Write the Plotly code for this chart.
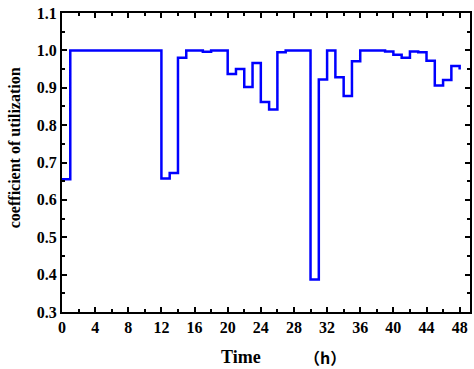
import plotly.graph_objects as go

hours = list(range(0, 49))
utilization = [
    0.655, 1.0, 1.0, 1.0, 1.0, 1.0, 1.0, 1.0, 1.0, 1.0, 1.0, 1.0,
    0.657, 0.672, 0.98, 1.0, 1.0, 0.996, 1.0, 1.0, 0.937, 0.95, 0.902, 0.966,
    0.862, 0.842, 0.995, 1.0, 1.0, 1.0, 0.387, 0.922, 1.0, 0.928, 0.878, 0.971,
    1.0, 1.0, 1.0, 0.997, 0.988, 0.98, 0.997, 0.995, 0.972, 0.906, 0.921, 0.958,
    0.949,
]
x_ticks = list(range(0, 49, 4))
y_ticks = [0.3, 0.4, 0.5, 0.6, 0.7, 0.8, 0.9, 1.0, 1.1]

fig = go.Figure()
fig.add_trace(go.Scatter(
    x=hours, y=utilization, mode="lines", line_shape="hv",
    line=dict(color="#0000ff", width=2.5), showlegend=False,
))

tickfont = dict(family="Liberation Serif", size=16, color="black", weight="bold")
fig.update_xaxes(
    range=[0, 49.25], tickvals=x_ticks, ticktext=[str(v) for v in x_ticks],
    ticks="inside", ticklen=5, tickwidth=1.5, tickcolor="black",
    showline=True, linecolor="black", linewidth=2, mirror="allticks",
    showgrid=False, zeroline=False, tickfont=tickfont,
    minor=dict(dtick=2, tick0=0, ticks="inside", ticklen=3, tickwidth=1.5, tickcolor="black", showgrid=False),
)
fig.update_yaxes(
    range=[0.3, 1.1], tickvals=y_ticks, ticktext=[f"{v:.1f}" for v in y_ticks],
    ticks="inside", ticklen=5, tickwidth=1.5, tickcolor="black",
    showline=True, linecolor="black", linewidth=2, mirror="allticks",
    showgrid=False, zeroline=False, tickfont=tickfont,
    minor=dict(dtick=0.05, tick0=0.3, ticks="inside", ticklen=3, tickwidth=1.5, tickcolor="black", showgrid=False),
)

fig.update_layout(
    width=474, height=369,
    margin=dict(l=62, r=2, t=13, b=57),
    plot_bgcolor="white", paper_bgcolor="white",
    annotations=[
        dict(text="<b>Time</b>", xref="paper", yref="paper", x=(242 - 62) / 410, y=-(357 - 312) / 299,
             showarrow=False, xanchor="center", yanchor="middle",
             font=dict(family="Liberation Serif", size=18, color="black")),
        dict(text="<b>（h）</b>", xref="paper", yref="paper", x=(326 - 62) / 410, y=-(357 - 312) / 299,
             showarrow=False, xanchor="center", yanchor="middle",
             font=dict(family="Noto Sans CJK SC", size=16, color="black")),
        dict(text="<b>coefficient of utilization</b>", xref="paper", yref="paper",
             x=-(62 - 14) / 410, y=(312 - 148) / 299, textangle=-90,
             showarrow=False, xanchor="center", yanchor="middle",
             font=dict(family="Liberation Serif", size=16, color="black")),
    ],
)

fig.write_html("out.html", config={"displayModeBar": False},
               post_script="document.body.style.margin='0px';document.body.style.overflow='hidden';")
